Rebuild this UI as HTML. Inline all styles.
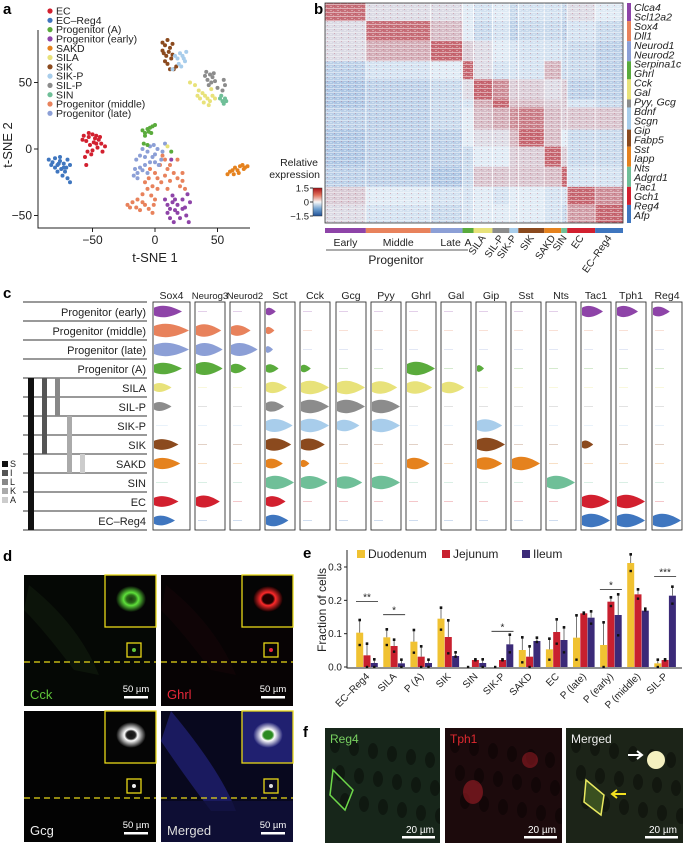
<!DOCTYPE html>
<html><head><meta charset="utf-8"><style>
html,body{margin:0;padding:0;background:#fff}
svg{display:block;font-family:"Liberation Sans",sans-serif}
</style></head><body>
<svg id="fig" width="685" height="845" viewBox="0 0 685 845" xmlns="http://www.w3.org/2000/svg">
<defs>
<pattern id="hmtex" width="7" height="4" patternUnits="userSpaceOnUse">
<rect width="7" height="1" fill="#ffffff" opacity="0.45"/>
<rect x="1" y="2" width="2" height="1" fill="#ffffff" opacity="0.35"/>
<rect x="4" y="3" width="1" height="1" fill="#ffffff" opacity="0.3"/>
<rect x="5" y="1" width="1" height="1" fill="#b2182b" opacity="0.25"/>
</pattern>
<radialGradient id="gGreen" cx="0.5" cy="0.5" r="0.5"><stop offset="0" stop-color="#1a3a10"/><stop offset="0.3" stop-color="#2a6a18"/><stop offset="0.5" stop-color="#5ee03a"/><stop offset="1" stop-color="#050805"/></radialGradient>
<radialGradient id="gRed" cx="0.5" cy="0.5" r="0.5"><stop offset="0" stop-color="#200"/><stop offset="0.35" stop-color="#200"/><stop offset="0.5" stop-color="#ff2a2a"/><stop offset="1" stop-color="#050000"/></radialGradient>
<radialGradient id="gWhite" cx="0.5" cy="0.5" r="0.5"><stop offset="0" stop-color="#111"/><stop offset="0.3" stop-color="#222"/><stop offset="0.45" stop-color="#fff"/><stop offset="1" stop-color="#000"/></radialGradient>
<radialGradient id="gMerge" cx="0.5" cy="0.5" r="0.5"><stop offset="0" stop-color="#2a8a20"/><stop offset="0.3" stop-color="#2a8a20"/><stop offset="0.45" stop-color="#fff"/><stop offset="1" stop-color="#1a1a70"/></radialGradient>
<clipPath id="fclip0"><rect x="325" y="728" width="115" height="115"/></clipPath>
<clipPath id="fclip1"><rect x="445" y="728" width="117" height="115"/></clipPath>
<clipPath id="fclip2"><rect x="566" y="728" width="117" height="115"/></clipPath>
</defs>
<g id="panelA"></g>
<g id="panelB"></g>
<g id="panelC"></g>
<g id="panelD"></g>
<g id="panelE"></g>
<g id="panelF"></g>
</svg>
<script>
// ---------- shared data ----------
const clusterNames = ["EC","EC\u2013Reg4","Progenitor (A)","Progenitor (early)","SAKD","SILA","SIK","SIK-P","SIL-P","SIN","Progenitor (middle)","Progenitor (late)"];
const clusterColors = ["#d2202f","#3f76bf","#5aab3c","#8e44a8","#e5821e","#e8e27a","#8b4a1e","#a8cdeb","#8c8c8c","#6fbf98","#e8825c","#8c9fd6"];

const ptsEC = [[-57,10],[-55,6],[-53,9],[-50,11],[-47,10],[-45,7],[-43,4],[-40,2],[-52,3],[-49,5],[-46,1],[-54,-2],[-56,-6],[-55,-12],[-42,-2],[-50,-1],[-58,7],[-48,8],[-44,9],[-51,-4],[-53,12],[-47,4]];
const ptsECReg4 = [[-85,-8],[-82,-10],[-80,-7],[-78,-12],[-76,-9],[-73,-11],[-70,-8],[-68,-12],[-75,-15],[-72,-17],[-78,-17],[-74,-20],[-70,-22],[-68,-25],[-80,-14],[-83,-12],[-76,-6],[-71,-14],[-77,-11],[-73,-14]];
const ptsPA = [[-10,14],[-8,12],[-6,15],[-4,16],[-2,17],[0,18],[-8,10],[-5,13],[-3,12],[-9,4],[-6,3],[13,-2]];
const ptsPEarly = [[8,-38],[10,-42],[12,-45],[14,-40],[16,-38],[18,-48],[12,-52],[15,-55],[20,-52],[22,-45],[25,-50],[27,-55],[28,-40],[26,-34],[10,-48],[18,-42],[14,-35],[22,-38],[13,-8],[16,-46],[24,-44]];
const ptsSAKD = [[58,-19],[60,-17],[62,-16],[64,-14],[66,-16],[68,-13],[70,-12],[72,-14],[74,-13],[63,-19],[67,-18],[71,-15]];
const ptsSILA = [[28,50],[32,48],[35,44],[38,42],[40,40],[42,38],[44,36],[46,40],[48,38],[36,38],[39,35],[43,33],[45,45],[34,40],[10,2]];
const ptsSIK = [[6,80],[8,78],[10,82],[12,76],[14,79],[7,72],[9,70],[11,73],[13,68],[8,66],[10,64],[15,60],[17,62],[12,60],[6,74],[14,71]];
const ptsSIKP = [[16,70],[18,68],[20,72],[22,70],[24,66],[19,64],[21,62],[25,73],[23,68],[14,60]];
const ptsSILP = [[40,55],[42,52],[44,56],[46,54],[48,51],[43,48],[45,50],[55,52],[56,48],[41,58],[47,57],[54,44],[50,46]];
const ptsSIN = [[52,38],[54,36],[56,38],[55,34],[53,40],[57,36]];
const ptsPMiddle = [[-22,-42],[-18,-40],[-15,-44],[-12,-46],[-10,-40],[-8,-42],[-5,-45],[-2,-48],[0,-38],[-3,-35],[-6,-30],[-8,-25],[-5,-22],[-2,-28],[2,-30],[5,-25],[8,-20],[10,-15],[12,-12],[15,-18],[18,-22],[20,-28],[22,-24],[24,-30],[6,-5],[8,-8],[4,-12],[0,-18],[-4,-15],[2,-22],[10,-30],[12,-24],[-14,-38],[-10,-34],[-20,-44],[18,-8],[22,-18],[-1,-42]];
const ptsPLate = [[-16,-15],[-14,-18],[-12,-14],[-10,-16],[-8,-12],[-6,-18],[-4,-10],[-2,-6],[0,-4],[2,0],[-1,3],[-4,2],[-6,-2],[-8,-6],[-10,0],[-12,-5],[5,-8],[6,-2],[3,-12],[-15,-8],[0,-10],[8,4],[-17,-20],[-14,-22]];
const tsneSets = [ptsEC,ptsECReg4,ptsPA,ptsPEarly,ptsSAKD,ptsSILA,ptsSIK,ptsSIKP,ptsSILP,ptsSIN,ptsPMiddle,ptsPLate];
const tsneXTicks = [-50,0,50];
const tsneYTicks = [-50,0,50];

const hmColGroups = ["Early","Middle","Late","A","SILA","SIL-P","SIK-P","SIK","SAKD","SIN","EC","EC\u2013Reg4"];
const hmColSizes = [41,65,32,11,19,17,9,26,17,6,28,28];
const hmColColors = ["#8e44a8","#e8825c","#8c9fd6","#5aab3c","#e8e27a","#8c8c8c","#a8cdeb","#8b4a1e","#e5821e","#6fbf98","#d2202f","#3f76bf"];
const hmRowColors = ["#8e44a8","#e8825c","#8c9fd6","#5aab3c","#e8e27a","#8c8c8c","#a8cdeb","#8b4a1e","#e5821e","#6fbf98","#d2202f","#3f76bf"];
const hmRowSizes = [18,20,20,18,20,8,22,17,20,20,18,18];
const hmGenes = ["Clca4","Scl12a2","Sox4","Dll1","Neurod1","Neurod2","Serpina1c","Ghrl","Cck","Gal","Pyy, Gcg","Bdnf","Scgn","Gip","Fabp5","Sst","Iapp","Nts","Adgrd1","Tac1","Gch1","Reg4","Afp"];
const hmValues = [
 [0.8,0.1,0.1,0.0,-0.1,0.0,-0.2,-0.1,-0.1,-0.2,0.1,0.0],
 [0.1,0.8,0.3,0.0,-0.2,-0.1,-0.3,-0.2,-0.2,-0.3,-0.1,-0.2],
 [0.1,0.4,0.85,0.2,0.1,0.0,-0.1,-0.1,-0.1,-0.2,-0.2,-0.3],
 [-0.3,-0.1,0.0,0.85,0.1,-0.1,-0.1,-0.1,0.35,-0.2,-0.2,-0.3],
 [-0.4,-0.3,-0.2,0.1,0.85,0.6,0.2,0.2,0.1,0.2,-0.3,-0.3],
 [-0.4,-0.3,-0.2,-0.1,0.4,0.85,0.3,0.3,0.2,0.2,-0.1,-0.2],
 [-0.3,-0.3,-0.2,0.0,0.3,0.4,0.6,0.7,0.3,0.2,0.25,0.25],
 [-0.4,-0.3,-0.3,0.0,0.1,0.1,0.35,0.85,0.3,0.0,-0.2,-0.2],
 [-0.4,-0.3,-0.3,-0.2,0.0,0.0,0.2,0.2,0.85,0.2,-0.2,-0.2],
 [-0.3,-0.3,-0.4,-0.2,0.25,0.25,0.25,0.25,0.3,0.85,-0.1,-0.1],
 [0.2,0.0,-0.1,-0.1,0.0,-0.1,0.0,0.0,-0.1,-0.1,0.85,0.6],
 [0.1,-0.1,-0.2,-0.1,0.0,0.0,0.0,0.0,-0.1,-0.2,0.5,0.85]
];

const vGenes = ["Sox4","Neurog3","Neurod2","Sct","Cck","Gcg","Pyy","Ghrl","Gal","Gip","Sst","Nts","Tac1","Tph1","Reg4"];
const vRows = ["Progenitor (early)","Progenitor (middle)","Progenitor (late)","Progenitor (A)","SILA","SIL-P","SIK-P","SIK","SAKD","SIN","EC","EC\u2013Reg4"];
const vRowColors = ["#8e44a8","#e8825c","#8c9fd6","#5aab3c","#e8e27a","#8c8c8c","#a8cdeb","#8b4a1e","#e5821e","#6fbf98","#d2202f","#3f76bf"];
const vSox4    = [0.8,1,1,0.8,0.5,0.5,0,0.7,0.75,0,0.7,0.6];
const vNeurog3 = [0,0.9,0.95,0.95,0,0,0,0,0,0,0.85,0];
const vNeurod2 = [0,0.7,0.95,0.55,0,0,0,0,0,0,0,0];
const vSct     = [0.35,0.3,0.25,0.45,0.75,0.65,0.95,0.9,0.6,1,0.7,0.8];
const vCck     = [0,0,0,0.35,1,1,1,0.85,0.3,0.95,0,0];
const vGcg     = [0,0,0,0,1,1,0.8,0,0,0.9,0,0];
const vPyy     = [0,0,0,0,0.9,1,1,0,0,1,0,0];
const vGhrl    = [0,0,0,1,0.9,0,0,0,0.8,0,0,0];
const vGal     = [0,0,0,0,0.8,0,0,0,0,0,0,0];
const vGip     = [0,0,0,0.25,0,0,0.9,1,0.9,0,0,0];
const vSst     = [0,0,0,0,0,0,0,0,1,0,0,0];
const vNts     = [0,0,0,0,0,0,0,0,0,1,0,0];
const vTac1    = [0.75,0,0,0,0,0,0,0.4,0,0,1,1];
const vTph1    = [0.75,0,0,0,0,0,0,0,0,0,1,1];
const vReg4    = [0.6,0,0,0,0,0,0,0,0,0,0,1];
const vMatrix = [vSox4,vNeurog3,vNeurod2,vSct,vCck,vGcg,vPyy,vGhrl,vGal,vGip,vSst,vNts,vTac1,vTph1,vReg4];

const eCats = ["EC\u2013Reg4","SILA","P (A)","SIK","SIN","SIK-P","SAKD","EC","P (late)","P (early)","P (middle)","SIL-P"];
const eSeries = ["Duodenum","Jejunum","Ileum"];
const eColors = ["#f0c232","#c8202f","#3b2a78"];
const eDuod = [0.103,0.089,0.076,0.145,0.0,0.0,0.051,0.053,0.088,0.066,0.312,0.011];
const eJeju = [0.035,0.063,0.031,0.090,0.021,0.021,0.031,0.105,0.161,0.196,0.218,0.021];
const eIleu = [0.012,0.011,0.012,0.033,0.012,0.068,0.078,0.081,0.148,0.156,0.169,0.214];
const eDuodErr = [0.141,0.113,0.111,0.178,0,0,0.089,0.085,0.155,0.134,0.338,0.022];
const eJejuErr = [0.070,0.082,0.062,0.140,0.023,0.023,0.062,0.143,0.163,0.209,0.233,0.023];
const eIleuErr = [0.023,0.022,0.022,0.044,0.023,0.097,0.088,0.119,0.167,0.218,0.175,0.241];
const eDuodDot = [0.066,0.066,0.043,0.112,0,0,0.014,0.022,0.022,0.0,0.288,0.0];
const eJejuDot = [0.0,0.046,0.0,0.041,0.020,0.020,0.0,0.070,0.160,0.183,0.205,0.020];
const eIleuDot = [0.0,0.0,0.0,0.031,0.0,0.044,0.075,0.044,0.130,0.095,0.170,0.190];
const eYTicks = [0.0,0.1,0.2,0.3];
const eSigIdx = [0,1,5,9,11];
const eSigLabel = ["**","*","*","*","***"];
const eSigY = [0.197,0.157,0.107,0.233,0.272];

const NS="http://www.w3.org/2000/svg";
function mk(tag,attrs,parent,text){const e=document.createElementNS(NS,tag);for(const k in attrs)e.setAttribute(k,attrs[k]);if(text!==undefined)e.textContent=text;parent.appendChild(e);return e;}

// ---------- panel A ----------
(function(){
const g=document.getElementById('panelA');
const sx=v=>155+v*1.25, sy=v=>149-v*1.33;
let t=mk('text',{x:3,y:14,'font-size':15,'font-weight':'bold'},g,'a');

let ax=mk('path',{d:'M38,30 V228 H250',fill:'none',stroke:'#222','stroke-width':1},g);

tsneXTicks.forEach(v=>{mk('line',{x1:sx(v),x2:sx(v),y1:228,y2:232,stroke:'#222'},g);
 const l=mk('text',{x:sx(v),y:244,'font-size':12,'text-anchor':'middle',fill:'#222'},g,v===0?'0':(v<0?'\u2212'+(-v):''+v));
 });
tsneYTicks.forEach(v=>{mk('line',{x1:34,x2:38,y1:sy(v),y2:sy(v),stroke:'#222'},g);
 const l=mk('text',{x:32,y:sy(v)+4,'font-size':12,'text-anchor':'end',fill:'#222'},g,v===0?'0':(v<0?'\u2212'+(-v):''+v));
 });
let xt=mk('text',{x:155,y:262,'font-size':13,'text-anchor':'middle',fill:'#222'},g,'t-SNE 1');

let yt=mk('text',{x:0,y:0,'font-size':13,'text-anchor':'middle',fill:'#222',transform:'translate(12,145) rotate(-90)'},g,'t-SNE 2');

const order=[10,11,3,2,0,1,4,5,6,7,8,9];
order.forEach(ci=>{tsneSets[ci].forEach(p=>{const c=mk('circle',{cx:sx(p[0]),cy:sy(p[1]),r:2,fill:clusterColors[ci]},g);
 });});
clusterNames.forEach((n,i)=>{const y=11+i*9.3;
 const le=mk('g',{},g);
 mk('circle',{cx:50,cy:y,r:2.6,fill:clusterColors[i]},le);
 mk('text',{x:56,y:y+3.6,'font-size':10.5,fill:'#222'},le,n);});
})();

// ---------- panel B ----------
(function(){
const g=document.getElementById('panelB');
let t=mk('text',{x:314,y:14,'font-size':15,'font-weight':'bold'},g,'b');

const x0=325,x1=623,y0=3,y1=223;
const totC=hmColSizes.reduce((a,b)=>a+b,0), totR=hmRowSizes.reduce((a,b)=>a+b,0);
const cx=[];let acc=0;hmColSizes.forEach(s=>{cx.push(x0+acc/totC*(x1-x0));acc+=s;});cx.push(x1);
const ry=[];acc=0;hmRowSizes.forEach(s=>{ry.push(y0+acc/totR*(y1-y0));acc+=s;});ry.push(y1);
function col(v){const lo=[70,120,190],mid=[222,234,244],hi=[185,40,50];
 const a=v<0?lo:hi,f=Math.min(1,Math.abs(v));return 'rgb('+mid.map((m,i)=>Math.round(m+(a[i]-m)*f)).join(',')+')';}
hmValues.forEach((row,ri)=>row.forEach((v,ci)=>{
 const r=mk('rect',{x:cx[ci],y:ry[ri],width:cx[ci+1]-cx[ci],height:ry[ri+1]-ry[ri],fill:col(v*0.8)},g);
 }));
mk('rect',{x:x0,y:y0,width:x1-x0,height:y1-y0,fill:'url(#hmtex)'},g);
for(let i=1;i<cx.length-1;i++)mk('line',{x1:cx[i],x2:cx[i],y1:y0,y2:y1,stroke:'#fff','stroke-width':0.8},g);
mk('rect',{x:x0,y:y0,width:x1-x0,height:y1-y0,fill:'none',stroke:'#333','stroke-width':0.8},g);
hmColColors.forEach((c,i)=>{const r=mk('rect',{x:cx[i],y:228,width:cx[i+1]-cx[i],height:5,fill:c},g);
 });
hmRowColors.forEach((c,i)=>{const r=mk('rect',{x:627,y:ry[i],width:4,height:ry[i+1]-ry[i],fill:c},g);
 });
hmGenes.forEach((n,i)=>{const l=mk('text',{x:634,y:11+i*9.45,'font-size':10.5,'font-style':'italic',fill:'#222'},g,n);
 });
const mid=i=>(cx[i]+cx[i+1])/2;
[["Early",0],["Middle",1],["Late",2],["A",3]].forEach(([n,i])=>{const l=mk('text',{x:i===2?mid(i)+4:mid(i),y:246,'font-size':10.5,'text-anchor':'middle',fill:'#222'},g,n);
 });
mk('line',{x1:326,x2:468,y1:250,y2:250,stroke:'#222','stroke-width':0.8},g);
let pl=mk('text',{x:396,y:264,'font-size':12,'text-anchor':'middle',fill:'#222'},g,'Progenitor');

for(let i=4;i<12;i++){const x=mid(i)+3;const l=mk('text',{x:x,y:238,'font-size':10,'text-anchor':'end',fill:'#222',transform:'rotate(-55 '+x+' 238)'},g,hmColGroups[i]);
 }
const lg=mk('g',{},g);
mk('text',{x:318,y:166,'font-size':10.5,'text-anchor':'end',fill:'#222'},lg,'Relative');
mk('text',{x:320,y:178,'font-size':10.5,'text-anchor':'end',fill:'#222'},lg,'expression');
const lgrad=mk('linearGradient',{id:'cbar',x1:0,y1:0,x2:0,y2:1},document.querySelector('defs'));
[['0','#a50f15'],['0.25','#e0705a'],['0.5','#f7f7f7'],['0.75','#6fa0cf'],['1','#1f4f95']].forEach(s=>mk('stop',{offset:s[0],'stop-color':s[1]},lgrad));
mk('rect',{x:313,y:188,width:9,height:28,fill:'url(#cbar)',stroke:'#333','stroke-width':0.5},lg);
[['1.5',188],['0',202],['\u22121.5',216]].forEach(([s,y])=>{mk('line',{x1:310,x2:313,y1:y,y2:y,stroke:'#333'},lg);mk('text',{x:309,y:y+3.5,'font-size':9.5,'text-anchor':'end',fill:'#222'},lg,s);});
})();

// ---------- panel C ----------
(function(){
const g=document.getElementById('panelC');
let t=mk('text',{x:3,y:298,'font-size':15,'font-weight':'bold'},g,'c');

const top=302,rh=19;
for(let i=0;i<=12;i++){mk('line',{x1:23,x2:147,y1:top+i*rh,y2:top+i*rh,stroke:'#333','stroke-width':0.9},g);}
vRows.forEach((n,i)=>{const l=mk('text',{x:146,y:top+i*rh+14,'font-size':11,'text-anchor':'end',fill:'#222'},g,n);
 });
[[28,'#111',4,12],[42,'#555',4,8],[55,'#888',4,6],[67,'#aaa',6,9],[80,'#ccc',4,4],[80,'#ccc',8,9]].forEach(([x,c,r0,r1])=>{
 const b=mk('rect',{x:x,y:top+r0*rh,width:x===28?6:5,height:(r1-r0)*rh,fill:c},g);
 });
[['S','#111'],['I','#555'],['L','#888'],['K','#aaa'],['A','#ccc']].forEach(([s,c],i)=>{
 const le=mk('g',{},g);
 mk('rect',{x:2,y:461+i*9,width:6,height:6,fill:c},le);mk('text',{x:10,y:467+i*9,'font-size':9,fill:'#222'},le,s);});
const boxX=[153,195,230,265,300,336,371,406,441,476,511,546,581,616,652];
vGenes.forEach((gn,gi)=>{const x=boxX[gi],w=gi===0?37:30;
 const lab=mk('text',{x:x+w/2,y:299,'font-size':gi===1||gi===2?9.5:10.5,'text-anchor':'middle',fill:'#222'},g,gn);
 
 const bx=mk('rect',{x:x,y:302,width:w,height:228,fill:'none',stroke:'#333','stroke-width':0.9},g);
 
 vMatrix[gi].forEach((v,ri)=>{const cy=top+ri*rh+rh/2;
  if(v<=0){mk('line',{x1:x+3,x2:x+w*0.4,y1:cy,y2:cy,stroke:vRowColors[ri],'stroke-width':0.5,opacity:0.5},g);return;}
  const L=v*(w-2),h=Math.min(7.5,2.5+v*5);
  const d='M'+(x+1)+','+(cy-h*0.6)+' C'+(x+L*0.3)+','+(cy-h*1.1)+' '+(x+L*0.6)+','+(cy-h)+' '+(x+1+L)+','+cy+' C'+(x+L*0.6)+','+(cy+h)+' '+(x+L*0.3)+','+(cy+h*1.1)+' '+(x+1)+','+(cy+h*0.6)+' Z';
  const p=mk('path',{d:d,fill:vRowColors[ri]},g);
  });
});
})();

// ---------- panel D ----------
(function(){
const g=document.getElementById('panelD');
let t=mk('text',{x:3,y:561,'font-size':15,'font-weight':'bold'},g,'d');

const imgs=[[24,575,'#050805','Cck','#5fc43a','url(#gGreen)'],[161,575,'#070304','Ghrl','#e8283a','url(#gRed)'],[24,711,'#030303','Gcg','#eee','url(#gWhite)'],[161,711,'#08081e','Merged','#ddd','url(#gMerge)']];
imgs.forEach(([x,y,bg,lab,lc,grad],i)=>{const ig=mk('g',{},g);
 mk('rect',{x:x,y:y,width:132,height:131,fill:bg},ig);
 if(i===3){mk('path',{d:'M'+(x+10)+','+y+' Q'+(x+60)+','+(y+60)+' '+(x+75)+','+(y+100)+' L'+(x+50)+','+(y+100)+' Q'+(x+20)+','+(y+60)+' '+x+','+(y+30)+' Z',fill:'#22227a',opacity:0.7},ig);
  mk('rect',{x:x,y:y+90,width:132,height:41,fill:'#10103a',opacity:0.8},ig);}
 if(i===0||i===1){mk('path',{d:'M'+(x+5)+','+(y+10)+' Q'+(x+55)+','+(y+50)+' '+(x+75)+','+(y+100)+' L'+(x+50)+','+(y+95)+' Q'+(x+20)+','+(y+55)+' '+x+','+(y+35)+' Z',fill:i===0?'#0e180b':'#120508',opacity:0.8},ig);}
 const ix=x+81,iy=y;
 mk('rect',{x:ix,y:iy,width:51,height:52,fill:i===3?'#202070':'#050505',stroke:'#e8d818','stroke-width':1.3},ig);
 mk('ellipse',{cx:ix+26,cy:iy+24,rx:15,ry:13,fill:grad},ig);
 mk('rect',{x:x+103,y:y+68,width:14,height:14,fill:'none',stroke:'#e8d818','stroke-width':1.3},ig);
 mk('circle',{cx:x+110,cy:y+75,r:2,fill:lc},ig);
 mk('line',{x1:x,x2:x+132,y1:y+87,y2:y+87,stroke:'#e8d818','stroke-width':1.3,'stroke-dasharray':'6,4'},ig);
 mk('text',{x:x+6,y:y+124,'font-size':13,fill:lc},ig,lab);
 mk('text',{x:x+112,y:y+117,'font-size':9.5,'text-anchor':'middle',fill:'#fff'},ig,'50 \u00b5m');
 mk('rect',{x:x+100,y:y+121,width:24,height:2.5,fill:'#fff'},ig);
});
})();

// ---------- panel E ----------
(function(){
const g=document.getElementById('panelE');
let t=mk('text',{x:303,y:558,'font-size':15,'font-weight':'bold'},g,'e');

const y0=667,k=333.3,sy=v=>y0-v*k;
const cx=i=>367+i*27.1, bw=7;
const ax=mk('path',{d:'M347,550 V668 H682',fill:'none',stroke:'#222','stroke-width':1},g);

eYTicks.forEach(v=>{mk('line',{x1:344,x2:347,y1:sy(v),y2:sy(v),stroke:'#222'},g);
 const l=mk('text',{x:342,y:sy(v)+3.5,'font-size':10,'text-anchor':'end',fill:'#222'},g,v.toFixed(1));
 });
const yt=mk('text',{x:0,y:0,'font-size':12,'text-anchor':'middle',fill:'#222',transform:'translate(326,610) rotate(-90)'},g,'Fraction of cells');

const vals=[eDuod,eJeju,eIleu],errs=[eDuodErr,eJejuErr,eIleuErr],dots=[eDuodDot,eJejuDot,eIleuDot];
eCats.forEach((c,i)=>{
 vals.forEach((arr,s)=>{const x=cx(i)+(s-1)*bw-bw/2+(s-1)*0.3;
  const r=mk('rect',{x:x,y:sy(arr[i]),width:bw,height:Math.max(0,arr[i]*k),fill:eColors[s]},g);
  
  if(errs[s][i]>arr[i]){const e=mk('path',{d:'M'+(x+bw/2)+','+sy(arr[i])+' V'+sy(errs[s][i]),stroke:'#555','stroke-width':0.8,fill:'none'},g);
   
   mk('rect',{x:x+bw/2-1.3,y:sy(errs[s][i])-1.3,width:2.6,height:2.6,fill:'#111'},g);}
  mk('rect',{x:x+bw/2-1.2,y:sy(dots[s][i])-1.2,width:2.4,height:2.4,fill:'#111'},g);
 });
 const lx=cx(i)+3;const l=mk('text',{x:lx,y:677,'font-size':10,'text-anchor':'end',fill:'#222',transform:'rotate(-45 '+lx+' 677)'},g,c);
 
});
eSigIdx.forEach((i,j)=>{const y=sy(eSigY[j]);
 const sg=mk('g',{},g);
 mk('line',{x1:cx(i)-11,x2:cx(i)+11,y1:y,y2:y,stroke:'#222','stroke-width':0.8},sg);
 mk('text',{x:cx(i),y:y-1,'font-size':10,'text-anchor':'middle',fill:'#222'},sg,eSigLabel[j]);});
eSeries.forEach((s,i)=>{const x=[357,442,522][i];
 const le=mk('g',{},g);
 mk('rect',{x:x,y:550,width:8,height:8,fill:eColors[i]},le);
 mk('text',{x:x+11,y:558,'font-size':12,fill:'#222'},le,s);});
})();

// ---------- panel F ----------
(function(){
const g=document.getElementById('panelF');
let t=mk('text',{x:303,y:737,'font-size':15,'font-weight':'bold'},g,'f');

const imgs=[[325,115,'#17261a','Reg4','#78d060'],[445,117,'#1c0a0c','Tph1','#e02a30'],[566,117,'#1c2418','Merged','#eee']];
imgs.forEach(([x,w,bg,lab,lc],i)=>{const ig=mk('g',{'clip-path':'url(#fclip'+i+')'},g);
 mk('rect',{x:x,y:728,width:w,height:115,fill:bg},ig);
 for(let r=0;r<3;r++)for(let c=0;c<6;c++){mk('ellipse',{cx:x+10+c*19+r*5,cy:745+r*28+c*3,rx:5,ry:8,fill:'#000',opacity:0.35},ig);}
 if(i===0){mk('path',{d:'M'+(x+8)+',770 L'+(x+28)+',790 L'+(x+20)+',810 L'+(x+5)+',795 Z',fill:'none',stroke:'#6ed84a','stroke-width':1.5},ig);}
 if(i===1){mk('ellipse',{cx:x+28,cy:792,rx:10,ry:12,fill:'#b8202a',opacity:0.5},ig);mk('ellipse',{cx:x+85,cy:760,rx:8,ry:8,fill:'#b8202a',opacity:0.45},ig);}
 if(i===2){mk('path',{d:'M'+(x+20)+',780 L'+(x+38)+',795 L'+(x+35)+',815 L'+(x+18)+',802 Z',fill:'#3a5020',stroke:'#e8e860','stroke-width':1.5},ig);
  mk('ellipse',{cx:x+90,cy:760,rx:9,ry:9,fill:'#f4f0c0'},ig);
  mk('path',{d:'M'+(x+62)+',755 H'+(x+76)+' M'+(x+71)+',751 L'+(x+76)+',755 L'+(x+71)+',759',stroke:'#fff','stroke-width':2,fill:'none'},ig);
  mk('path',{d:'M'+(x+60)+',794 H'+(x+46)+' M'+(x+51)+',790 L'+(x+46)+',794 L'+(x+51)+',798',stroke:'#f2e020','stroke-width':2,fill:'none'},ig);}
 mk('text',{x:x+5,y:743,'font-size':12,fill:lc},ig,lab);
 mk('text',{x:x+w-20,y:833,'font-size':10,'text-anchor':'middle',fill:'#fff'},ig,'20 \u00b5m');
 mk('rect',{x:x+w-38,y:836,width:33,height:2.5,fill:'#fff'},ig);
});
})();
</script>
</body></html>
